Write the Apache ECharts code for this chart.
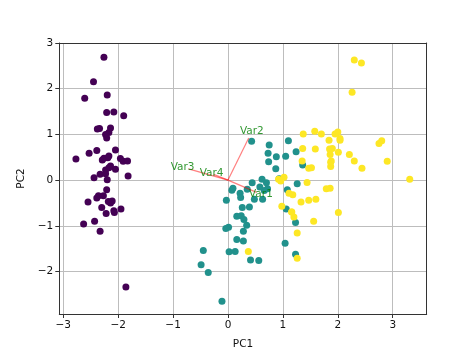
<!DOCTYPE html>
<html>
<head>
<meta charset="utf-8">
<script src="https://cdn.jsdelivr.net/npm/echarts@6/dist/echarts.min.js"></script>
<style>html,body{margin:0;padding:0;background:#fff;}#c{width:474px;height:355px;}</style>
</head>
<body>
<div id="c"></div>
<script>
// PCA scores per class
const setosaPC1 = [-2.26,-2.08,-2.36,-2.30,-2.39,-2.08,-2.44,-2.23,-2.33,-2.18,-2.17,-2.33,-2.22,-2.63,-2.20,-2.26,-2.21,-2.19,-1.90,-2.34,-1.91,-2.21,-2.77,-1.82,-2.23,-1.95,-2.05,-2.17,-2.14,-2.27,-2.14,-1.83,-2.61,-2.45,-2.11,-2.21,-2.05,-2.53,-2.43,-2.17,-2.29,-1.86,-2.55,-1.96,-2.14,-2.07,-2.38,-2.39,-2.23,-2.20];
const setosaPC2 = [0.48,-0.67,-0.34,-0.60,0.65,1.49,0.05,0.22,-1.12,-0.47,1.04,0.13,-0.73,-0.96,1.86,2.69,1.48,0.49,1.41,1.13,0.41,0.92,0.46,0.09,0.14,-0.63,0.24,0.53,0.31,-0.34,-0.50,0.42,1.79,2.15,-0.46,-0.21,0.66,0.59,-0.90,0.27,0.44,-2.34,-0.48,0.47,1.14,-0.71,1.12,-0.39,1.00,0.01];
const versiPC1 = [1.10,0.73,1.24,0.41,1.08,0.39,0.75,-0.49,0.93,0.01,-0.11,0.44,0.56,0.72,-0.03,0.88,0.35,0.16,1.23,0.16,0.74,0.48,1.23,0.63,0.70,0.87,1.26,1.36,0.66,-0.04,0.13,0.02,0.24,1.06,0.22,0.43,1.05,1.04,0.07,0.28,0.28,0.62,0.34,-0.36,0.29,0.09,0.23,0.58,-0.45,0.26];
const versiPC2 = [0.86,0.59,0.62,-1.75,-0.21,-0.59,0.77,-1.85,0.03,-1.03,-2.65,-0.06,-1.76,-0.19,-0.44,0.51,-0.20,-0.79,-1.62,-1.30,0.40,-0.42,-0.93,-0.42,-0.06,0.25,-0.08,0.33,-0.23,-1.06,-1.56,-1.57,-0.78,-0.63,-0.29,0.85,0.52,-1.38,-0.22,-1.33,-1.12,0.02,-0.99,-2.02,-0.86,-0.18,-0.38,-0.15,-1.54,-0.60];
const virgPC1 = [1.84,1.16,2.21,1.44,1.87,2.75,0.37,2.30,2.01,2.26,1.36,1.60,1.88,1.26,1.47,1.59,1.47,2.43,3.31,1.26,2.04,0.98,2.90,1.33,1.70,1.95,1.18,1.02,1.79,1.86,2.44,2.30,1.86,1.11,1.20,2.80,1.58,1.35,0.92,1.85,2.01,1.90,1.16,2.04,2.00,1.87,1.56,1.52,1.37,0.96];
const virgPC2 = [0.87,-0.70,0.56,-0.05,0.30,0.80,-1.56,0.42,-0.71,1.92,0.69,-0.42,0.42,-1.16,-0.44,0.68,0.26,2.56,0.02,-1.71,0.91,-0.57,0.41,-0.48,1.01,1.01,-0.32,0.06,-0.19,0.56,0.26,2.63,-0.18,-0.29,-0.81,0.86,1.07,0.42,0.02,0.68,0.61,0.69,-0.70,0.87,1.05,0.39,-0.90,0.27,1.01,-0.02];

// loadings
const varNames = ['Var1','Var2','Var3','Var4'];
const loadX = [0.521, 0.377, -0.720, -0.261];
const loadY = [-0.269, 0.923, 0.244, 0.124];
const labelScale = 1.15;

const xTicks = [-3,-2,-1,0,1,2,3];
const yTicks = [-2,-1,0,1,2,3];

const zip = (a,b) => a.map((v,i)=>[v,b[i]]);
const fmt = v => String(v).replace('-', '\u2212');

const chart = echarts.init(document.getElementById('c'), null, {renderer:'canvas'});
const font = 'DejaVu Sans';
const XMIN = -3.073, XMAX = 3.619, YMIN = -2.93, YMAX = 3.0;

const series = [
  {type:'scatter', data: zip(setosaPC1,setosaPC2), symbolSize:7, itemStyle:{color:'#440154', opacity:1}, z:2},
  {type:'scatter', data: zip(versiPC1,versiPC2), symbolSize:7, itemStyle:{color:'#21918c', opacity:1}, z:2},
  {type:'scatter', data: zip(virgPC1,virgPC2), symbolSize:7, itemStyle:{color:'#fde725', opacity:1}, z:2}
];
varNames.forEach((n,i)=>{
  series.push({type:'line', data:[[0,0],[loadX[i],loadY[i]]], symbol:'none', silent:true,
    lineStyle:{color:'rgba(255,0,0,0.5)', width:1.2}, z:3, animation:false});
  series.push({type:'scatter', data:[[loadX[i]*labelScale, loadY[i]*labelScale]], symbolSize:0, silent:true, z:4,
    label:{show:true, position:'inside', formatter:n, color:'#008000', fontFamily:font, fontSize:10.5}});
});

const spine = {show:true, onZero:false, lineStyle:{color:'#333', width:1}};
chart.setOption({
  animation:false,
  backgroundColor:'#fff',
  grid:{left:59.3, right:47.3, top:43, bottom:39.3, containLabel:false},
  xAxis:[{type:'value', min:XMIN, max:XMAX, position:'bottom',
    name:'PC1', nameLocation:'middle', nameGap:25, nameTextStyle:{fontFamily:font, fontSize:10.5, color:'#111'},
    axisLine:spine,
    axisTick:{show:true, length:4, lineStyle:{color:'#333'}, customValues:xTicks},
    axisLabel:{customValues:xTicks, formatter:fmt, fontFamily:font, fontSize:10.5, color:'#111', margin:6},
    splitLine:{show:true, lineStyle:{color:'#bdbdbd', width:1}}
  },{type:'value', min:XMIN, max:XMAX, position:'top',
    axisLine:spine, axisTick:{show:false}, axisLabel:{show:false}, splitLine:{show:false}}],
  yAxis:[{type:'value', min:YMIN, max:YMAX, position:'left',
    name:'PC2', nameLocation:'middle', nameGap:30, nameRotate:90, nameTextStyle:{fontFamily:font, fontSize:10.5, color:'#111'},
    axisLine:spine,
    axisTick:{show:true, length:4, lineStyle:{color:'#333'}, customValues:yTicks},
    axisLabel:{customValues:yTicks, formatter:fmt, fontFamily:font, fontSize:10.5, color:'#111', margin:6},
    splitLine:{show:true, lineStyle:{color:'#bdbdbd', width:1}}
  },{type:'value', min:YMIN, max:YMAX, position:'right',
    axisLine:spine, axisTick:{show:false}, axisLabel:{show:false}, splitLine:{show:false}}],
  series: series
});
</script>
</body>
</html>
